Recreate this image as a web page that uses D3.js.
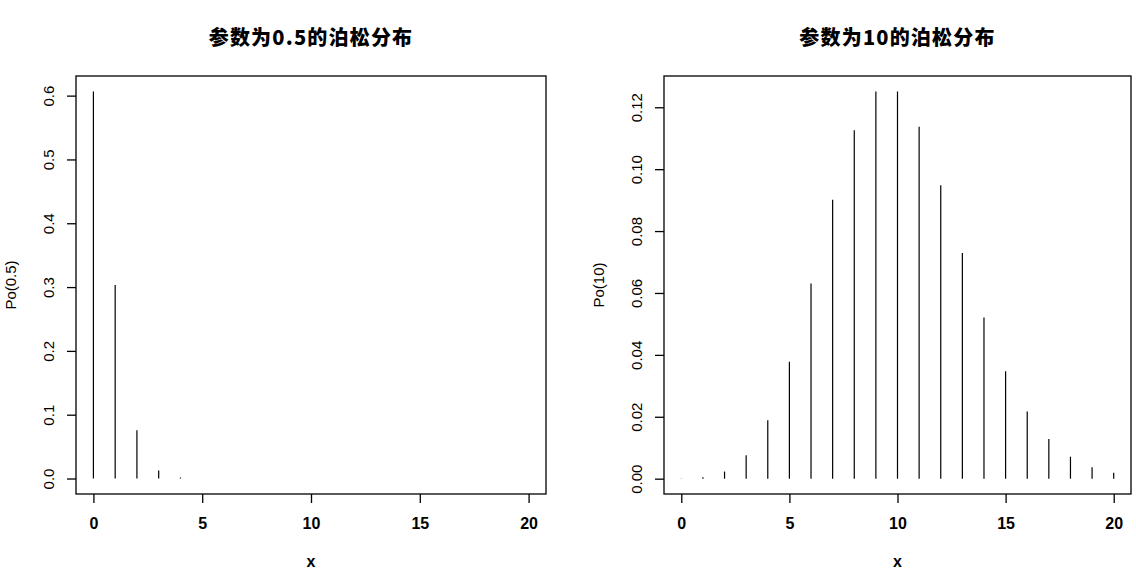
<!DOCTYPE html>
<html>
<head>
<meta charset="utf-8">
<script src="https://cdn.jsdelivr.net/npm/d3@7/dist/d3.min.js"></script>
<style>
  body { margin: 0; background: #fff; }
  svg { display: block; }
  .tick line, .domain { stroke: #000; }
</style>
</head>
<body>
<div id="chart"></div>
<script>
// x values 0..20 shared by both plots
let xValues = [0, 1, 2, 3, 4, 5, 6, 7, 8, 9, 10, 11, 12, 13, 14, 15, 16, 17, 18, 19, 20];

// Poisson probabilities, lambda = 0.5
let pois05 = [0.6065, 0.3033, 0.0758, 0.0126, 0.0016, 0.00016, 0.00001, 0, 0, 0,
              0, 0, 0, 0, 0, 0, 0, 0, 0, 0, 0];

// lambda = 10
let pois10 = [0.00005, 0.00045, 0.0023, 0.0076, 0.0189, 0.0378, 0.0631, 0.0901, 0.1126, 0.1251,
              0.1251, 0.1137, 0.0948, 0.0729, 0.0521, 0.0347, 0.0217, 0.0128, 0.0071, 0.0037, 0.0019];

let xTicks = [0, 5, 10, 15, 20];
let yTicks05 = [0, 0.1, 0.2, 0.3, 0.4, 0.5, 0.6];
let yTicks10 = [0, 0.02, 0.04, 0.06, 0.08, 0.10, 0.12];

let titles = ["参数为0.5的泊松分布", "参数为10的泊松分布"];
let yTitles = ["Po(0.5)", "Po(10)"];

let w = 1136;
let h = 585;

let svg = d3.select("#chart")
    .append("svg")
    .attr("width", w)
    .attr("height", h);

let panels = [
    {values: pois05, yTicks: yTicks05, digits: 1, left: 76, right: 546, title: titles[0], ytitle: yTitles[0]},
    {values: pois10, yTicks: yTicks10, digits: 2, left: 664, right: 1131, title: titles[1], ytitle: yTitles[1]}
];

let plotTop = 76;
let plotBottom = 494;

panels.forEach(function (p) {
    // R style 4% padding on each side
    let xExt = d3.extent(xValues);
    let xPad = (xExt[1] - xExt[0]) * 0.04;
    let x = d3.scaleLinear()
        .domain([xExt[0] - xPad, xExt[1] + xPad])
        .range([p.left, p.right]);

    let yExt = d3.extent(p.values);
    let yPad = (yExt[1] - yExt[0]) * 0.04;
    let y = d3.scaleLinear()
        .domain([yExt[0] - yPad, yExt[1] + yPad])
        .range([plotBottom, plotTop]);

    let g = svg.append("g");

    // vertical lines (type = "h")
    g.selectAll("line.bar")
        .data(p.values)
        .enter()
        .append("line")
        .attr("class", "bar")
        .attr("x1", function (d, i) { return x(xValues[i]); })
        .attr("x2", function (d, i) { return x(xValues[i]); })
        .attr("y1", y(0))
        .attr("y2", function (d) { return y(d); })
        .attr("stroke", "#000")
        .attr("stroke-width", 1.2);

    // box
    g.append("rect")
        .attr("x", p.left)
        .attr("y", plotTop)
        .attr("width", p.right - p.left)
        .attr("height", plotBottom - plotTop)
        .attr("fill", "none")
        .attr("stroke", "#000")
        .attr("stroke-width", 1.3);

    // x axis
    let xAxis = g.append("g")
        .attr("transform", "translate(0," + plotBottom + ")")
        .call(d3.axisBottom(x).tickValues(xTicks).tickSize(9).tickPadding(4).tickFormat(d3.format("d")));
    xAxis.select(".domain").remove();
    xAxis.selectAll("line").attr("stroke-width", 1.3);
    xAxis.selectAll("text")
        .attr("y", 35)
        .attr("dy", 0)
        .attr("font-family", "Liberation Sans, Arial, sans-serif")
        .attr("font-weight", "bold")
        .attr("font-size", "16px")
        .attr("fill", "#000");

    // y axis, labels rotated like R's default las = 0
    let yAxis = g.append("g")
        .attr("transform", "translate(" + p.left + ",0)")
        .call(d3.axisLeft(y).tickValues(p.yTicks).tickSize(9).tickFormat(d3.format("." + p.digits + "f")));
    yAxis.select(".domain").remove();
    yAxis.selectAll("line").attr("stroke-width", 1.3);
    yAxis.selectAll("text")
        .attr("x", 0)
        .attr("dy", 0)
        .attr("text-anchor", "middle")
        .attr("transform", "translate(-22,0) rotate(-90)")
        .attr("font-family", "Liberation Sans, Arial, sans-serif")
        .attr("font-size", "15px")
        .attr("fill", "#000");

    // title
    g.append("text")
        .attr("x", (p.left + p.right) / 2)
        .attr("y", 45)
        .attr("text-anchor", "middle")
        .attr("font-family", "Noto Sans CJK SC, sans-serif")
        .attr("font-weight", "900")
        .attr("font-size", "20px")
        .attr("letter-spacing", "1.2px")
        .text(p.title);

    // x label
    g.append("text")
        .attr("x", (p.left + p.right) / 2)
        .attr("y", 567)
        .attr("text-anchor", "middle")
        .attr("font-family", "Liberation Sans, Arial, sans-serif")
        .attr("font-weight", "bold")
        .attr("font-size", "16px")
        .text("x");

    // y label
    g.append("text")
        .attr("transform", "translate(" + (p.left - 60) + "," + ((plotTop + plotBottom) / 2) + ") rotate(-90)")
        .attr("text-anchor", "middle")
        .attr("font-family", "Liberation Sans, Arial, sans-serif")
        .attr("font-size", "15px")
        .text(p.ytitle);
});
</script>
</body>
</html>
